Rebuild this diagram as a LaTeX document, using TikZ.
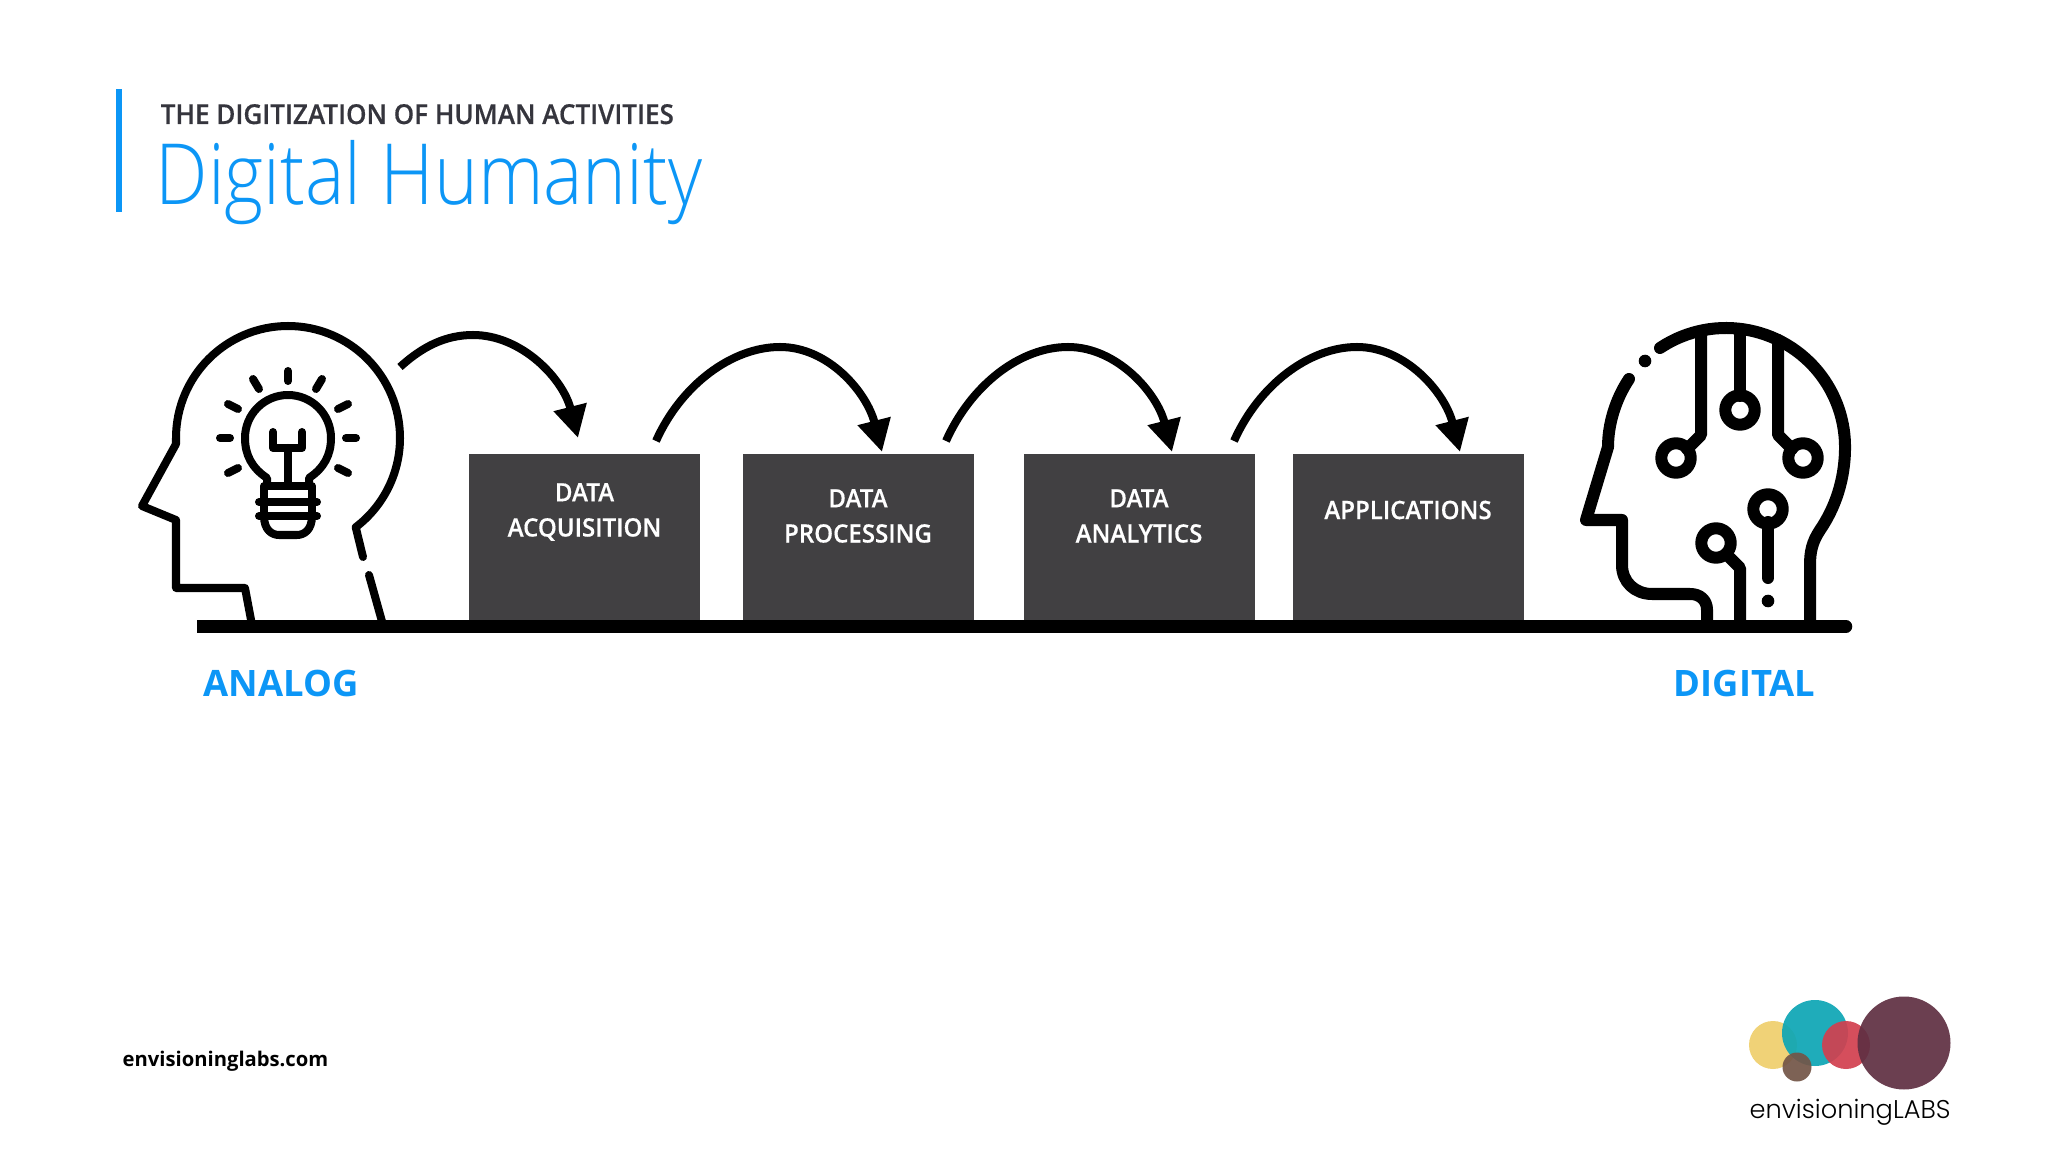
\documentclass[tikz,border=0pt]{standalone}
\usepackage{fontspec}
\setmainfont{Open Sans}
\newfontfamily\lightfont[FakeStretch=0.88]{Open Sans Light}
\newfontfamily\semifont[FakeStretch=0.95,FakeBold=0.4]{Open Sans Semibold}
\newfontfamily\logofont{Poppins Light}
\usetikzlibrary{arrows.meta}
\definecolor{bluetitle}{HTML}{0C96F6}
\definecolor{greybox}{HTML}{414042}
\definecolor{greytext}{HTML}{35353D}
\definecolor{logoyellow}{HTML}{EFCF6C}
\definecolor{logoteal}{HTML}{0DA6B5}
\definecolor{logored}{HTML}{D2404F}
\definecolor{logomaroon}{HTML}{5F2F42}
\definecolor{logobrown}{HTML}{735547}
\tikzset{
  stepbox/.style={fill=greybox,inner sep=0pt,minimum width=2.31cm,minimum height=1.67cm,anchor=north west},
  steplabel/.style={text=white,font=\fontsize{7.2}{10}\semifont,align=center},
  hop/.style={line width=0.08cm,-{Triangle[length=0.32cm,width=0.32cm]}},
  thinhead/.style={line width=0.08cm,line cap=round,line join=round},
  thickhead/.style={line width=0.12cm,line cap=round,line join=round},
  side/.style={font=\fontsize{10.35}{12}\selectfont\bfseries,text=bluetitle,anchor=base west,inner sep=0pt},
  bub/.style={fill opacity=0.92,draw=none}
}
\begin{document}
\begin{tikzpicture}[x=0.01cm,y=-0.01cm]
  \useasboundingbox (0,0) rectangle (2048,1152);
  \fill[white] (0,0) rectangle (2048,1152);
  % heading
  \fill[bluetitle] (116,89) rectangle (122,212);
  \node[anchor=base west,inner sep=0pt,text=greytext,font=\fontsize{7.8}{10}\semifont] (subtitle) at (160,124) {THE DIGITIZATION OF HUMAN ACTIVITIES};
  \node[anchor=base west,inner sep=0pt,text=bluetitle,font=\fontsize{24}{30}\lightfont] (title) at (155,205) {Digital Humanity};
  % boxes
  \node[stepbox] (box1) at (468,453) {};
  \node[stepbox] (box2) at (742,453) {};
  \node[stepbox] (box3) at (1023,453) {};
  \node[stepbox] (box4) at (1292,453) {};
  \node[steplabel] (label1) at (584.5,512) {DATA\\ACQUISITION};
  \node[steplabel] (label2) at (858,516) {DATA\\PROCESSING};
  \node[steplabel] (label3) at (1139,516) {DATA\\ANALYTICS};
  \node[steplabel] (label4) at (1408,510) {APPLICATIONS};
  % hops
  \coordinate (start1) at (400,367);
  \coordinate (top1) at (473,335);
  \coordinate (tip1) at (578,438);
  \coordinate (start2) at (656,441);
  \coordinate (top2) at (780,347);
  \coordinate (tip2) at (882,452);
  \coordinate (start3) at (946,441);
  \coordinate (top3) at (1068,347);
  \coordinate (tip3) at (1172,452);
  \coordinate (start4) at (1234,441);
  \coordinate (top4) at (1357,347);
  \coordinate (tip4) at (1460,452);
  \draw[hop] (start1) .. controls +(22,-20) and +(-28,0) .. (top1) .. controls +(49,0) and +(-15,-59) .. (tip1);
  \draw[hop] (start2) .. controls +(25,-56) and +(-48,0) .. (top2) .. controls +(49,0) and +(-15,-59) .. (tip2);
  \draw[hop] (start3) .. controls +(25,-56) and +(-48,0) .. (top3) .. controls +(49,0) and +(-15,-59) .. (tip3);
  \draw[hop] (start4) .. controls +(25,-56) and +(-48,0) .. (top4) .. controls +(49,0) and +(-15,-59) .. (tip4);
  % ground
  \draw[line width=0.125cm] (197,626.5) -- (1700,626.5);
  \draw[line width=0.125cm,line cap=round] (1700,626.5) -- (1846,626.5);
  % analog head
  \begin{scope}[thinhead]
    \draw (252,625) -- (245,588) -- (176,588) -- (176,520) -- (142,506) -- (176,444) -- (176,438)
      arc[start angle=180,end angle=412.8,radius=112] -- (363,557);
    \draw (369,575) -- (383,625);
    % bulb
    \draw (267,482) -- (267,478) .. controls (252,468) and (245,455) .. (245,438)
      arc[start angle=180,end angle=360,radius=43]
      .. controls (331,455) and (324,468) .. (309,478) -- (309,482);
    \draw (273,432) -- (273,448) -- (302,448) -- (302,432);
    \draw (288,448) -- (288,484);
    \draw (264,516) -- (264,486) -- (312,486) -- (312,516);
    \draw (259,502) -- (317,502);
    \draw (259,516) -- (317,516);
    \draw (264,516) .. controls (264,530) and (272,535) .. (279,535) -- (297,535) .. controls (304,535) and (312,530) .. (312,516);
    \draw (288,371) -- (288,381);
    \draw (220,438) -- (230,438);
    \draw (346,438) -- (356,438);
    \draw (253,379) -- (259,389);
    \draw (322,379) -- (316,389);
    \draw (228,404) -- (238,409);
    \draw (348,404) -- (338,409);
    \draw (228,473) -- (238,468);
    \draw (348,473) -- (338,468);
  \end{scope}
  % digital head
  \begin{scope}[thickhead]
    \draw (1707,625) -- (1707,610) .. controls (1707,600) and (1700,594) .. (1690,594) -- (1652,594)
      .. controls (1635,594) and (1622,582) .. (1622,565) -- (1622,520) -- (1586,520) -- (1608,447)
      .. controls (1608,425) and (1615,400) .. (1629,379);
    \draw (1660,348) arc[start angle=236.3,end angle=360,radius=119]
      .. controls (1845,480) and (1835,508) .. (1820,530)
      .. controls (1812,542) and (1810,552) .. (1810,565) -- (1810,625);
    \draw (1701,335) -- (1701,435) -- (1687,449);
    \draw (1740,333) -- (1740,396);
    \draw (1778,340) -- (1778,435) -- (1792,449);
    \draw (1768,522) -- (1768,578);
    \draw (1730,558) -- (1740,568) -- (1740,625);
    \draw (1676,458) circle[radius=14.7];
    \draw (1740,410) circle[radius=14.7];
    \draw (1803,458) circle[radius=14.7];
    \draw (1768,509) circle[radius=14.7];
    \draw (1716,543) circle[radius=14.7];
  \end{scope}
  \fill (1645,361) circle[radius=6.3];
  \fill (1768,601) circle[radius=6.3];
  % side labels
  \node[side] (analog) at (203,696) {ANALOG};
  \node[side] (digital) at (1673,696) {DIGITAL};
  \node[anchor=base west,inner sep=0pt,font=\fontsize{5.75}{8}\selectfont\bfseries] (site) at (122,1066) {envisioninglabs.com};
  % logo
  \fill[logoyellow,bub] (1773,1045) circle[radius=24];
  \fill[logoteal,bub] (1815,1033) circle[radius=33];
  \fill[logored,bub] (1846,1045) circle[radius=24];
  \fill[logomaroon,bub] (1904,1043) circle[radius=46.5];
  \fill[logobrown,bub] (1797,1067) circle[radius=14.5];
  \node[anchor=base west,inner sep=0pt,font=\fontsize{7.3}{9}\logofont] (logotext) at (1749,1118) {envisioningLABS};
\end{tikzpicture}
\end{document}
